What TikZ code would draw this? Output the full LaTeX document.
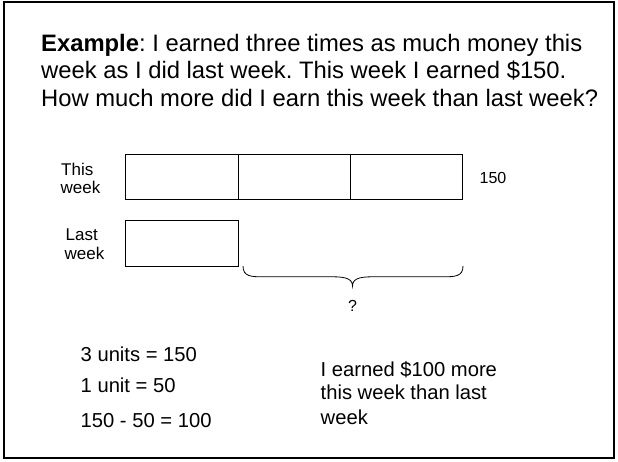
\documentclass[tikz,border=0pt]{standalone}
\usepackage{fontspec}
\setmainfont{Liberation Sans}
\begin{document}
\frenchspacing
\begin{tikzpicture}[x=1pt,y=-1pt,
  unitbox/.style={draw,line width=0.9pt,inner sep=0pt,outer sep=0pt,anchor=north west,minimum height=44.5pt},
  txt/.style={anchor=base west,inner sep=0pt},
  big/.style={txt,font=\frenchspacing\fontsize{23.8}{28}\selectfont},
  mid/.style={txt,font=\frenchspacing\fontsize{20.2}{24}\selectfont},
  lab/.style={txt,font=\fontsize{17}{18}\selectfont}]
\useasboundingbox (0,0) rectangle (618,462);
\draw[line width=2pt] (4,2) rectangle (614,458);
% question
\node[big] (q1) at (41,51.7) {\textbf{Example}: I earned three times as much money this};
\node[big] (q2) at (41,79) {week as I did last week. This week I earned \$150.};
\node[big] (q3) at (41,107) {How much more did I earn this week than last week?};
% bars
\node[unitbox,minimum width=113pt] (u1) at (125,154.5) {};
\node[unitbox,minimum width=112pt] (u2) at (238,154.5) {};
\node[unitbox,minimum width=112.5pt] (u3) at (350,154.5) {};
\node[unitbox,minimum width=113pt,minimum height=46pt] (l1) at (125,220) {};
% labels
\node[lab] (t1) at (61,175.7) {This};
\node[lab] (t2) at (60.5,193.3) {week};
\node[lab] (s1) at (65.5,241) {Last};
\node[lab] (s2) at (64.5,259) {week};
\node[txt,font=\fontsize{16}{18}\selectfont] (v) at (479.5,183.3) {150};
% brace
\coordinate (bl) at (243,266);
\coordinate (br) at (463,266);
\coordinate (bt) at (352.5,286);
\draw[line width=0.8pt] (bl) .. controls (243,276.5) and (251,276.8) .. (263,276.8)
  -- (333,276.8) .. controls (346,276.8) and (352.5,279) .. (bt)
  .. controls (352.5,279) and (359,276.8) .. (372,276.8)
  -- (443,276.8) .. controls (455,276.8) and (463,276.5) .. (br);
\node[anchor=base,inner sep=0pt,font=\fontsize{16}{18}\selectfont] (qm) at (352.5,311.7) {?};
% working
\node[mid] (w1) at (80.5,361.7) {3 units = 150};
\node[mid] (w2) at (80.5,392.3) {1 unit = 50};
\node[mid] (w3) at (80.5,427.7) {150 - 50 = 100};
\node[mid] (a1) at (320.5,376.7) {I earned \$100 more};
\node[mid] (a2) at (320.5,399.3) {this week than last};
\node[mid] (a3) at (320.5,424) {week};
\end{tikzpicture}
\end{document}
